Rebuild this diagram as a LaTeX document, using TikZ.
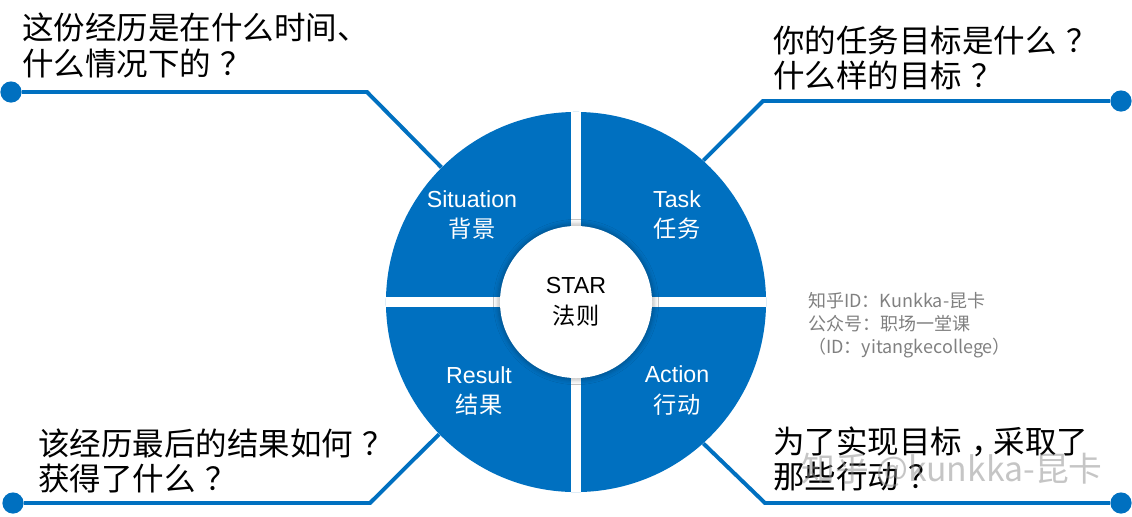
\documentclass[tikz,border=0pt]{standalone}
\usepackage{fontspec}
\setmainfont{Liberation Sans}
\newfontfamily\cjk{Noto Sans CJK SC}
\usetikzlibrary{shadows.blur, positioning}
\definecolor{starblue}{RGB}{0,112,192}
\tikzstyle{spoke} = [starblue, line width=2.8pt]
\tikzstyle{knob}  = [circle, fill=starblue, minimum size=5.3mm, inner sep=0pt]
\newcommand{\qm}{\hspace{0.3em}？}

\begin{document}
\begin{tikzpicture}[
        x=0.025cm, y=-0.025cm,
        question/.style={
            anchor=west,
            align=left,
            inner sep=0pt,
            font=\cjk\fontsize{22.4}{25.5}\selectfont
        },
        seg/.style={align=center, text=white, inner sep=0pt, font=\fontsize{16.5}{22}\selectfont},
        note/.style={anchor=west, align=left, inner sep=0pt, text=black!50, font=\cjk\fontsize{12.8}{16.4}\selectfont}
    ]
        \useasboundingbox (0,0) rectangle (1132,516);

        % the wheel
        \node[circle, fill=starblue, minimum size=9.5cm, inner sep=0pt] (wheel) at (576,302) {};
        \draw[white, line width=7pt] (wheel.north) -- (wheel.south);
        \draw[white, line width=6.5pt] (wheel.west) -- (wheel.east);
        \node[circle, fill=white, minimum size=3.8cm, inner sep=0pt, align=center,
            font=\fontsize{16.5}{22}\selectfont,
            blur shadow={shadow xshift=0pt, shadow yshift=0pt, shadow scale=1.03, shadow blur radius=3pt, shadow opacity=25}]
            (hub) at (576,302) {STAR\\{\cjk 法则}};

        \node[seg] (situation) at (472,215) {Situation\\{\cjk 背景}};
        \node[seg] (task) at (677,215) {Task\\{\cjk 任务}};
        \node[seg] (result) at (479,391) {Result\\{\cjk 结果}};
        \node[seg] (action) at (677,391) {Action\\{\cjk 行动}};

        % spokes out to the questions
        \node[knob] (dotTL) at (11,92) {};
        \node[knob] (dotTR) at (1121,101) {};
        \node[knob] (dotBL) at (13,503) {};
        \node[knob] (dotBR) at (1121,503) {};

        \coordinate (bendTL) at (367,92);
        \coordinate (bendTR) at (763,101);
        \coordinate (bendBL) at (370,503);
        \coordinate (bendBR) at (765,503);

        \draw[spoke] (dotTL) -- (bendTL) -- (wheel.135);
        \draw[spoke] (dotTR) -- (bendTR) -- (wheel.48);
        \draw[spoke] (dotBL) -- (bendBL) -- (wheel.-136);
        \draw[spoke] (dotBR) -- (bendBR) -- (wheel.-48);

        \node[question] (qS) at (22,45) {这份经历是在什么时间、\\什么情况下的\qm};
        \node[question] (qT) at (773,58) {你的任务目标是什么\qm\\什么样的目标\qm};
        \node[question] (qR) at (38,461) {该经历最后的结果如何\qm\\获得了什么\qm};
        \node[question] (qA) at (773,459) {为了实现目标\hspace{0.3em}，\hspace{-0.3em}采取了\\那些行动\qm};

        \node[note] (credit) at (808,325) {知乎ID：Kunkka-昆卡\\公众号：职场一堂课\\（ID：yitangkecollege）};
        \node[text=black!45, opacity=0.5, inner sep=0pt, font=\cjk\fontsize{24}{28}\selectfont] (mark) at (952,470) {知乎 @kunkka-昆卡};

    \end{tikzpicture}
\end{document}
